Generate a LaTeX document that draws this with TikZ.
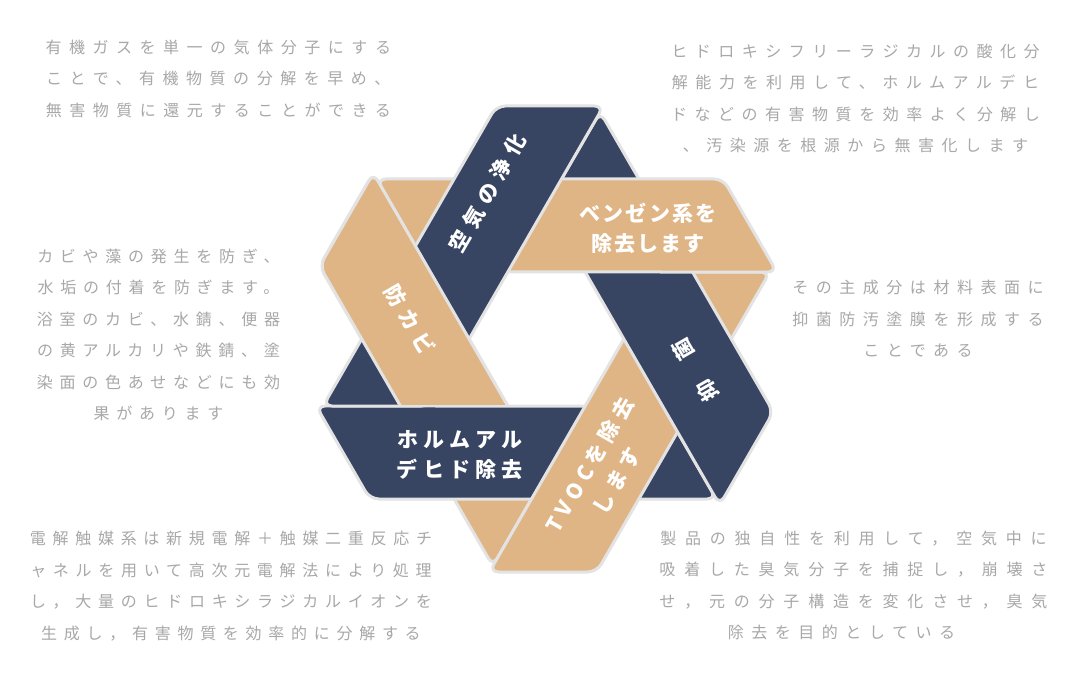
\documentclass[tikz,border=0pt]{standalone}
\usepackage{fontspec}
\newfontfamily\jptext[LetterSpace=47]{Noto Sans CJK JP}
\newfontfamily\jptextN[LetterSpace=42]{Noto Sans CJK JP}
\newfontfamily\jptextW[LetterSpace=55]{Noto Sans CJK JP}
\newfontfamily\labA[LetterSpace=32]{Noto Sans CJK JP}
\newfontfamily\labB[LetterSpace=10]{Noto Sans CJK JP}
\newfontfamily\labC[LetterSpace=25]{Noto Sans CJK JP}
\definecolor{navy}{HTML}{374462}
\definecolor{tan}{HTML}{E0B585}
\definecolor{bandline}{HTML}{E3E3E3}
\definecolor{txtgray}{HTML}{A8A8A8}
\def\bandpath{(-50.23,233) -- (57.16,233) -- (-116.05,-67) -- (-223.44,-67) -- cycle}
\tikzset{
  bandbase/.style={draw=bandline, line width=3pt, rounded corners=9pt, line join=round},
  darkband/.style={bandbase, fill=navy},
  tanband/.style={bandbase, fill=tan},
  sidetext/.style={align=center, text=txtgray, inner sep=0pt,
    font=\jptext\fontsize{16}{31.5}\selectfont},
  lab/.style={align=center, text=white, inner sep=0pt},
}
\begin{document}
\begin{tikzpicture}[x=1pt,y=1pt]
\useasboundingbox (-546.5,-352) rectangle (533.5,339);
\fill[white] (-546.5,-352) rectangle (533.5,339);
% bands, drawn so that each one lies over its clockwise neighbour
\path[tanband, rotate=60] \bandpath;    % 防カビ
\path[darkband, rotate=120] \bandpath;  % ホルムアルデヒド除去
\path[tanband, rotate=180] \bandpath;   % TVOC
\path[darkband, rotate=-120] \bandpath; % 抑菌
\path[tanband, rotate=-60] \bandpath;   % ベンゼン
\path[darkband] \bandpath;              % 空気の浄化
% 防カビ over 空気の浄化
\begin{scope}
\clip (-546.5,-65.5) rectangle (533.5,339);
\path[tanband, rotate=60] \bandpath;
\end{scope}
% band labels
\node[lab, font=\labA\bfseries\fontsize{21}{30}\selectfont, rotate=60] (l1) at (-59,146) {空気の浄化};
\node[lab, font=\labB\bfseries\fontsize{21}{30}\selectfont] (l2) at (101.5,111) {ベンゼン系を\\除去します};
\node[lab, font=\labB\bfseries\fontsize{21}{30}\selectfont, rotate=120] (l3) at (148.5,-31) {抑\hspace{27pt}菌};
\node[lab, font=\labC\bfseries\fontsize{21}{31}\selectfont, rotate=60] (l4) at (56.5,-134) {TVOCを除去\\します};
\node[lab, font=\labC\bfseries\fontsize{21}{30}\selectfont] (l5) at (-86.5,-116) {ホルムアル\\デヒド除去};
\node[lab, font=\labA\bfseries\fontsize{21}{30}\selectfont, rotate=-60] (l6) at (-136.5,19) {防カビ};
% side texts
\node[sidetext] (t1) at (-328.2,260.5) {有機ガスを単一の気体分子にする\\ことで、有機物質の分解を早め、\\無害物質に還元することができる};
\node[sidetext] (t2) at (309,240.7) {ヒドロキシフリーラジカルの酸化分\\解能力を利用して、ホルムアルデヒ\\ドなどの有害物質を効率よく分解し\\、汚染源を根源から無害化します};
\node[sidetext, font=\jptextN\fontsize{16}{31.5}\selectfont] (t3) at (-388,4) {カビや藻の発生を防ぎ、\\水垢の付着を防ぎます。\\浴室のカビ、水錆、便器\\の黄アルカリや鉄錆、塗\\染面の色あせなどにも効\\果があります};
\node[sidetext] (t4) at (371.5,20.3) {その主成分は材料表面に\\抑菌防汚塗膜を形成する\\ことである};
\node[sidetext, font=\jptextN\fontsize{16}{31.5}\selectfont] (t5) at (-315.5,-247) {電解触媒系は新規電解＋触媒二重反応チ\\ャネルを用いて高次元電解法により処理\\し，大量のヒドロキシラジカルイオンを\\生成し，有害物質を効率的に分解する};
\node[sidetext, font=\jptextW\fontsize{16}{31.5}\selectfont] (t6) at (307,-246.5) {製品の独自性を利用して，空気中に\\吸着した臭気分子を捕捉し，崩壊さ\\せ，元の分子構造を変化させ，臭気\\\jptext 除去を目的としている\hspace*{24pt}};
\end{tikzpicture}
\end{document}
